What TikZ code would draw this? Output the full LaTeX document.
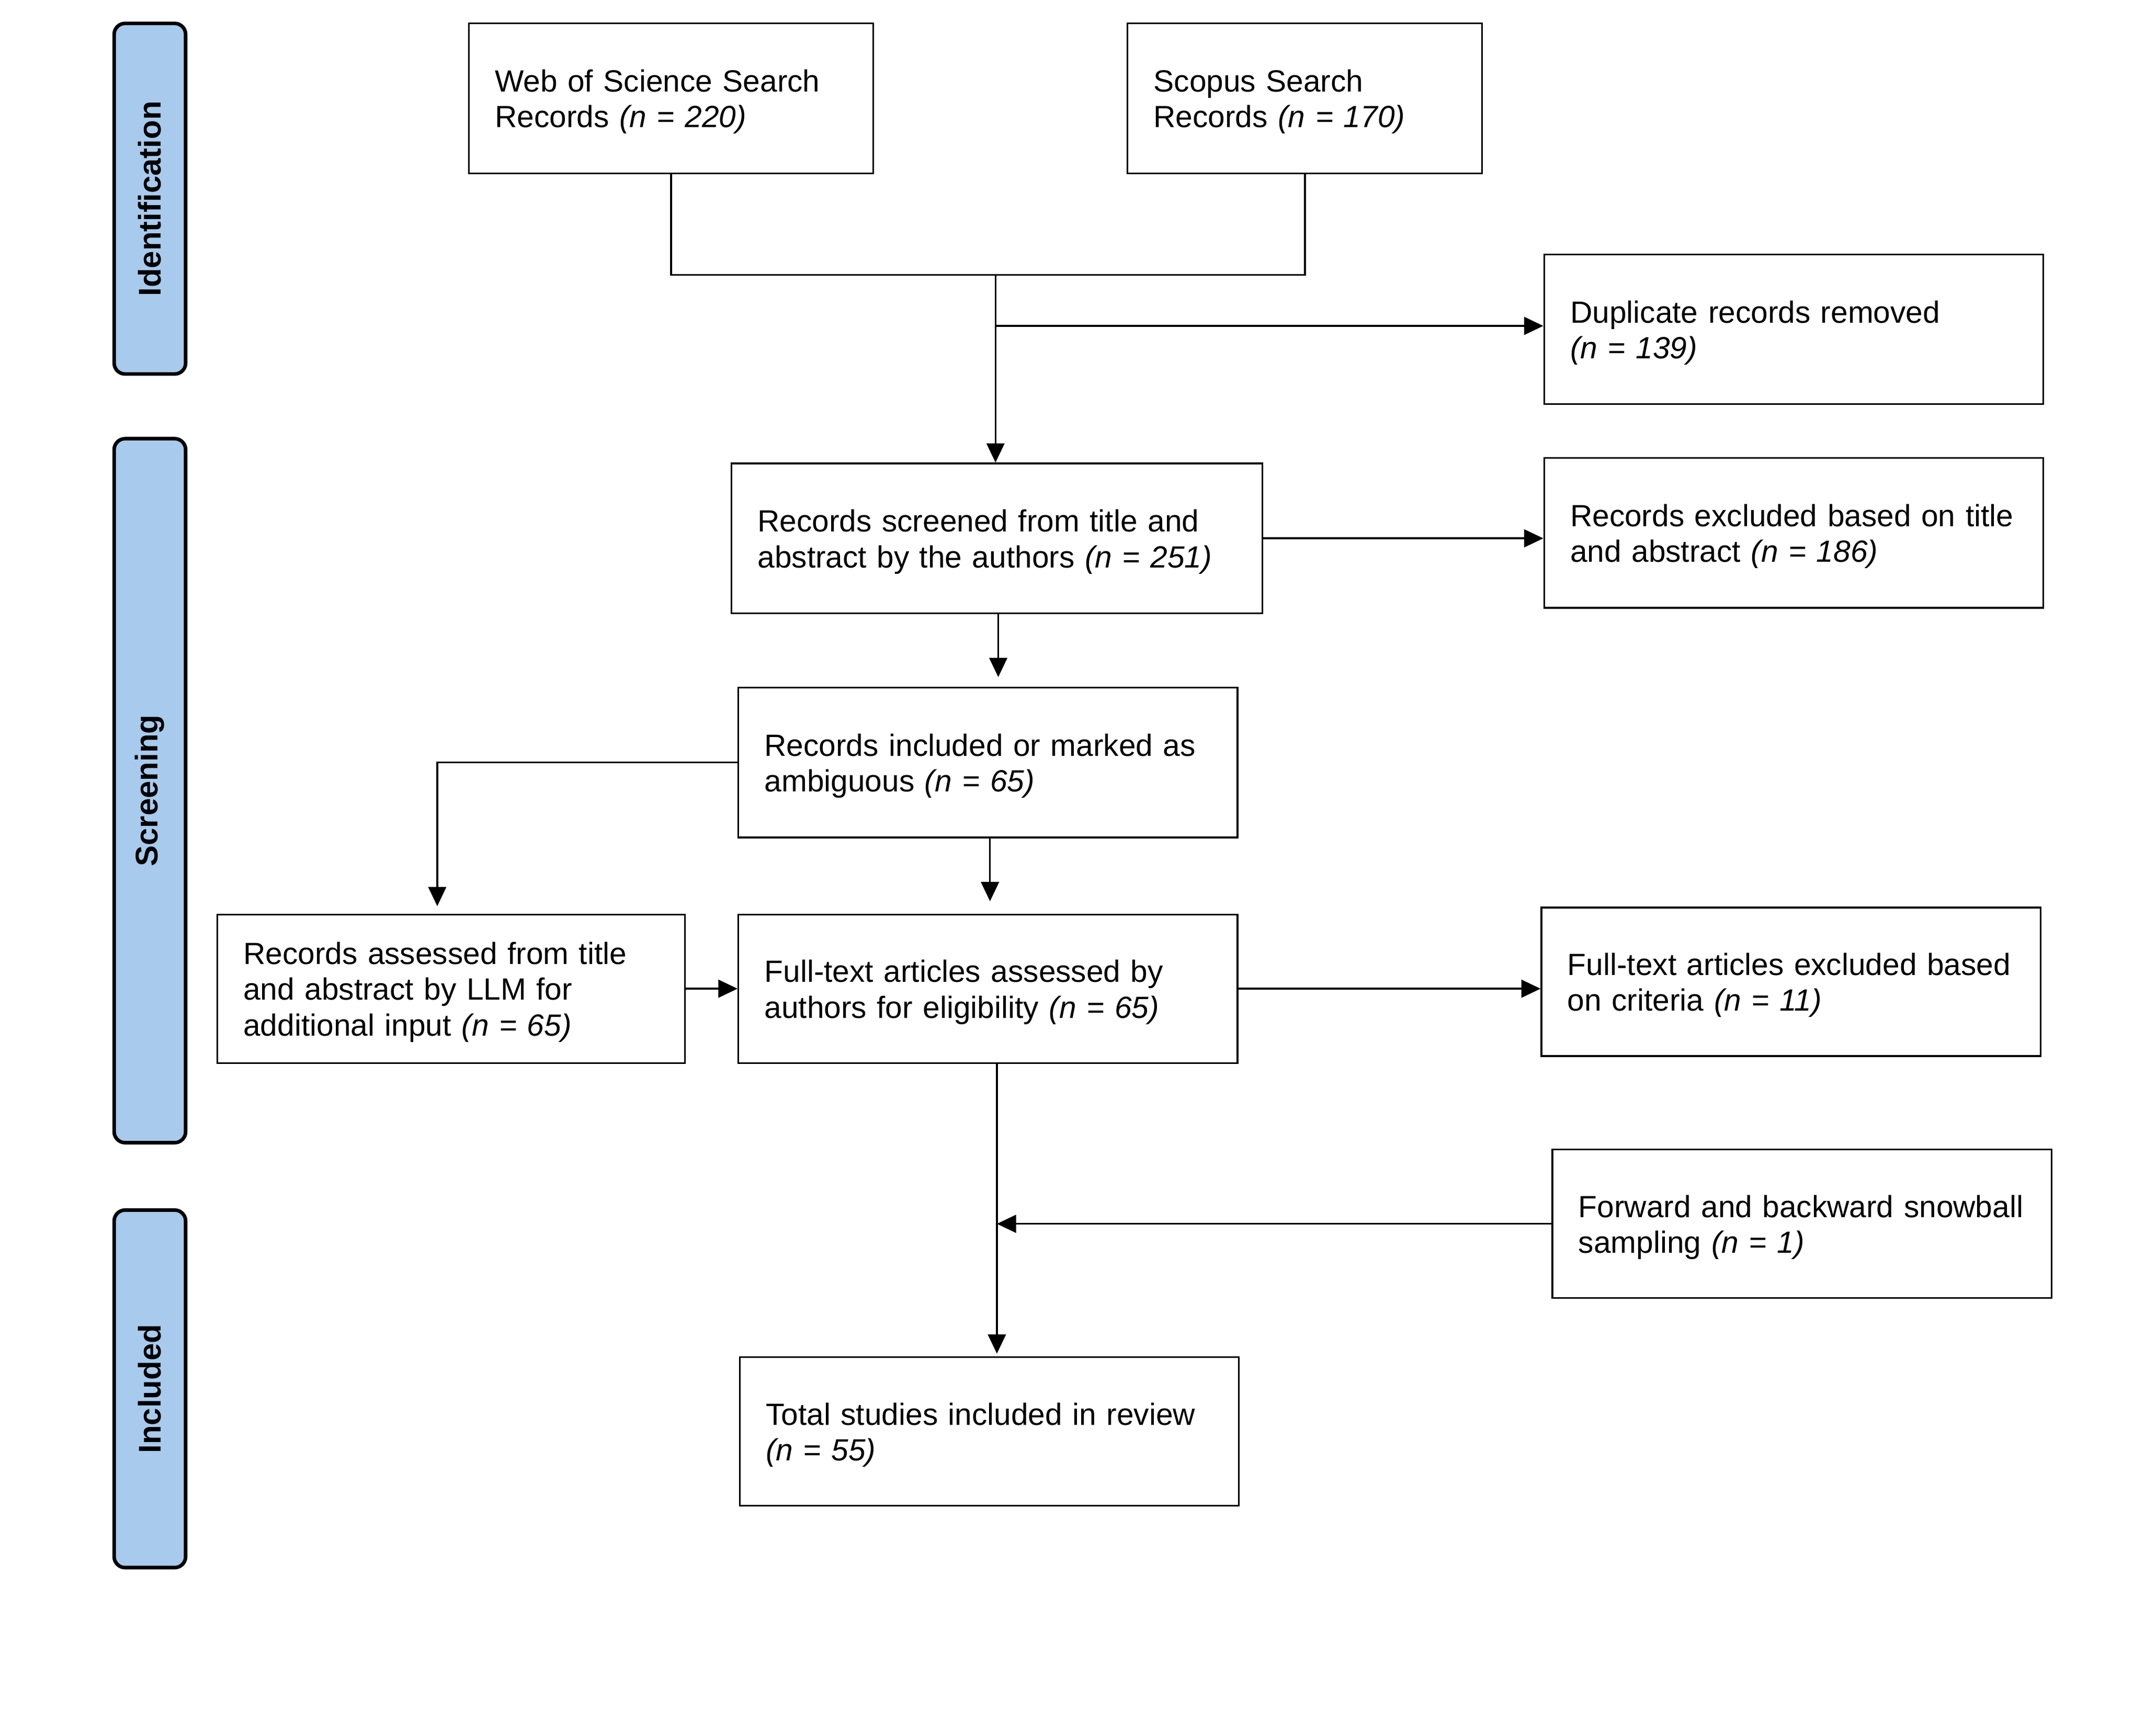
\documentclass[tikz,border=0pt]{standalone}
\usepackage{fontspec}
\setmainfont{Liberation Sans}
\usetikzlibrary{arrows.meta}
\definecolor{barblue}{HTML}{A8CAEC}
\newcommand{\fstrut}{\rule{0pt}{10.6pt}}
\begin{document}
\begin{tikzpicture}[x=0.5pt,y=-0.5pt,
  font=\fontsize{11.15pt}{13pt}\selectfont,
  box/.style={draw=black, line width=0.6pt, rectangle, inner xsep=9.5pt, inner ysep=0pt,
    align=left, anchor=center},
  bar/.style={draw=black, line width=1.3pt, fill=barblue, rounded corners=4pt,
    minimum width=26pt, inner sep=0pt},
  barlabel/.style={rotate=90, font=\fontsize{11.4pt}{13pt}\selectfont\bfseries},
  conn/.style={draw=black, line width=0.65pt},
  arr/.style={conn, -{Triangle[length=7pt,width=6.5pt]}}
]
\useasboundingbox (0,0) rectangle (1568,1253);

% phase bars
\node[bar, minimum height=127.5pt] (bid) at (109,144.5) {};
\node[barlabel] (lid) at (bid.center) {Identification};
\node[bar, minimum height=256pt] (bsc) at (109,575) {};
\node[barlabel] (lsc) at (bsc.center) {Screening};
\node[bar, minimum height=130pt] (bin) at (109,1010) {};
\node[barlabel] (lin) at (bin.center) {Included};

% boxes
\node[box, minimum width=147pt, minimum height=54.5pt, text width=128pt] (wos) at (488,71.5)
  {\fstrut\mbox{Web of Science Search}\\\mbox{Records \textit{(n = 220)}}};
\node[box, minimum width=129pt, minimum height=54.5pt, text width=110pt] (scopus) at (949,71.5)
  {\fstrut\mbox{Scopus Search}\\\mbox{Records \textit{(n = 170)}}};
\node[box, minimum width=181.5pt, minimum height=54.5pt, text width=162.5pt] (dup) at (1304.5,239.5)
  {\fstrut\mbox{Duplicate records removed}\\\mbox{\textit{(n = 139)}}};
\node[box, minimum width=193pt, minimum height=54.5pt, text width=174pt] (scr) at (725,391.5)
  {\fstrut\mbox{Records screened from title and}\\\mbox{abstract by the authors \textit{(n = 251)}}};
\node[box, minimum width=181.5pt, minimum height=54.5pt, text width=162.5pt] (exc) at (1304.5,387.5)
  {\fstrut\mbox{Records excluded based on title}\\\mbox{and abstract \textit{(n = 186)}}};
\node[box, minimum width=181.5pt, minimum height=54.5pt, text width=162.5pt] (inc) at (718.5,554.5)
  {\fstrut\mbox{Records included or marked as}\\\mbox{ambiguous \textit{(n = 65)}}};
\node[box, minimum width=170pt, minimum height=54pt, text width=151pt] (llm) at (328,719)
  {\fstrut\mbox{Records assessed from title}\\\mbox{and abstract by LLM for}\\\mbox{additional input \textit{(n = 65)}}};
\node[box, minimum width=181.5pt, minimum height=54pt, text width=162.5pt] (ft) at (718.5,719)
  {\fstrut\mbox{Full-text articles assessed by}\\\mbox{authors for eligibility \textit{(n = 65)}}};
\node[box, minimum width=181.5pt, minimum height=54pt, text width=162.5pt] (ftx) at (1302.5,714)
  {\fstrut\mbox{Full-text articles excluded based}\\\mbox{on criteria \textit{(n = 11)}}};
\node[box, minimum width=181.5pt, minimum height=54pt, text width=162.5pt] (snow) at (1310.5,890)
  {\fstrut\mbox{Forward and backward snowball}\\\mbox{sampling \textit{(n = 1)}}};
\node[box, minimum width=181.5pt, minimum height=54pt, text width=162.5pt] (tot) at (719.5,1041)
  {\fstrut\mbox{Total studies included in review}\\\mbox{\textit{(n = 55)}}};

% connectors
\coordinate (m) at (724,200);
\coordinate (d) at (724,237);
\coordinate (lb) at (318,659);
\coordinate (sx) at (726,446);
\coordinate (ix) at (720,609);
\coordinate (j) at (725,891);

\draw[conn] (wos.south) |- (m) -| (scopus.south);
\draw[arr] (m) -- (m |- scr.north);
\draw[arr] (d) -- (d -| dup.west);
\draw[arr] (scr.east) -- (scr.east -| exc.west);
\draw[arr, shorten >=3.5pt] (sx |- scr.south) -- (sx |- inc.north);
\draw[arr] (inc.west) -| (lb);
\draw[arr, shorten >=4.5pt] (ix |- inc.south) -- (ix |- ft.north);
\draw[arr] (llm.east) -- (ft.west);
\draw[arr] (ft.east) -- (ft.east -| ftx.west);
\draw[arr, shorten >=1pt] (j |- ft.south) -- (j |- tot.north);
\draw[arr] (snow.west) -- (snow.west -| j);
\end{tikzpicture}
\end{document}
